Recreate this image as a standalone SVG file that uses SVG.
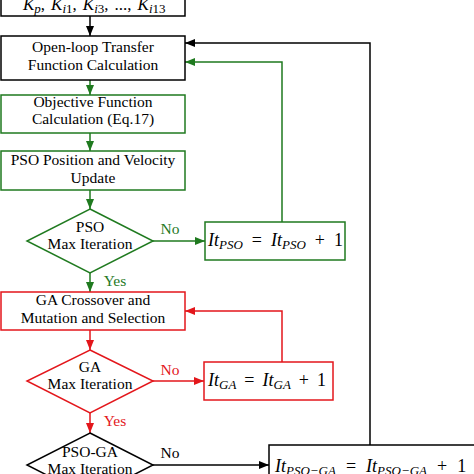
<svg xmlns="http://www.w3.org/2000/svg" width="474" height="474" viewBox="0 0 474 474">
<style>
text{font-family:"Liberation Serif","DejaVu Serif","Times New Roman",serif;font-size:15.5px;text-anchor:middle}
.m{font-style:italic;text-anchor:start;font-size:18px}
.t{font-style:italic;text-anchor:start;font-size:17px}
.s{font-size:13px;font-style:italic}
.n{font-size:13px;font-style:normal}
.u{font-style:normal}
.box{fill:#fff;stroke-width:1.5}
.k{stroke:#000;fill:none;stroke-width:1.5}
.g{stroke:#1f7a1f;fill:none;stroke-width:1.5}
.r{stroke:#e3161b;fill:none;stroke-width:1.5}
</style>
<defs>
<marker id="ak" markerWidth="10" markerHeight="8" refX="10" refY="4" orient="auto" markerUnits="userSpaceOnUse"><path d="M0,0 L10,4 L0,8 Z" fill="#000"/></marker>
<marker id="ag" markerWidth="10" markerHeight="8" refX="10" refY="4" orient="auto" markerUnits="userSpaceOnUse"><path d="M0,0 L10,4 L0,8 Z" fill="#1f7a1f"/></marker>
<marker id="ar" markerWidth="10" markerHeight="8" refX="10" refY="4" orient="auto" markerUnits="userSpaceOnUse"><path d="M0,0 L10,4 L0,8 Z" fill="#e3161b"/></marker>
</defs>
<g id="connectors">
<path class="k" d="M90,16 V36" marker-end="url(#ak)"/>
<path class="g" d="M90,80 V95" marker-end="url(#ag)"/>
<path class="g" d="M90,133 V151" marker-end="url(#ag)"/>
<path class="g" d="M90,190 V209" marker-end="url(#ag)"/>
<path class="g" d="M153,241 H205" marker-end="url(#ag)"/>
<path class="g" d="M282,222 V62 H185" marker-end="url(#ag)"/>
<path class="g" d="M90,273 V292" marker-end="url(#ag)"/>
<path class="r" d="M90,330 V350" marker-end="url(#ar)"/>
<path class="r" d="M153,381 H204" marker-end="url(#ar)"/>
<path class="r" d="M282,362 V311 H185" marker-end="url(#ar)"/>
<path class="r" d="M90,413 V433" marker-end="url(#ar)"/>
<path class="k" d="M153,465 H269" marker-end="url(#ak)"/>
<path class="k" d="M370,445 V43 H185" marker-end="url(#ak)"/>
<text x="170" y="234" fill="#1f7a1f">No</text>
<text x="115" y="286" fill="#1f7a1f">Yes</text>
<text x="170" y="375" fill="#e3161b">No</text>
<text x="115" y="426" fill="#e3161b">Yes</text>
<text x="170" y="458">No</text>
</g>
<g id="init">
<rect class="box" x="1" y="-20" width="184" height="36" stroke="#000"/>
<text class="t" x="23" y="10">K<tspan class="s" dy="3">p</tspan><tspan class="u" dy="-3">,</tspan><tspan dx="6">K</tspan><tspan class="s" dy="3">i</tspan><tspan class="n">1</tspan><tspan class="u" dy="-3">,</tspan><tspan dx="6">K</tspan><tspan class="s" dy="3">i</tspan><tspan class="n">3</tspan><tspan class="u" dy="-3">,</tspan><tspan class="u" dx="6">...,</tspan><tspan dx="6">K</tspan><tspan class="s" dy="3">i</tspan><tspan class="n">13</tspan></text>
</g>
<g id="openloop">
<rect class="box" x="1" y="36" width="184" height="44" stroke="#000"/>
<text x="93" y="52">Open-loop Transfer</text>
<text x="93" y="70">Function Calculation</text>
</g>
<g id="objective">
<rect class="box" x="1" y="95" width="184" height="38" stroke="#1f7a1f"/>
<text x="93" y="107">Objective Function</text>
<text x="93" y="124">Calculation (Eq.17)</text>
</g>
<g id="psoupdate">
<rect class="box" x="1" y="151" width="184" height="39" stroke="#1f7a1f"/>
<text x="93" y="165">PSO Position and Velocity</text>
<text x="93" y="183">Update</text>
</g>
<g id="psomax">
<path class="box" d="M90,209 L153,241 L90,273 L27,241 Z" stroke="#1f7a1f"/>
<text x="90" y="232">PSO</text>
<text x="90" y="249">Max Iteration</text>
</g>
<g id="itpso">
<rect class="box" x="205" y="222" width="140" height="38" stroke="#1f7a1f"/>
<text class="m" x="208" y="246">It<tspan class="s" dy="3">PSO</tspan><tspan class="u" dy="-3" dx="9">=</tspan><tspan dx="9">It</tspan><tspan class="s" dy="3">PSO</tspan><tspan class="u" dy="-3" dx="9">+</tspan><tspan class="u" dx="9">1</tspan></text>
</g>
<g id="ga">
<rect class="box" x="1" y="292" width="184" height="38" stroke="#e3161b"/>
<text x="93" y="305">GA Crossover and</text>
<text x="93" y="323">Mutation and Selection</text>
</g>
<g id="gamax">
<path class="box" d="M90,350 L153,381 L90,413 L27,381 Z" stroke="#e3161b"/>
<text x="90" y="372">GA</text>
<text x="90" y="389">Max Iteration</text>
</g>
<g id="itga">
<rect class="box" x="204" y="362" width="129" height="38" stroke="#e3161b"/>
<text class="m" x="208" y="386">It<tspan class="s" dy="3">GA</tspan><tspan class="u" dy="-3" dx="8">=</tspan><tspan dx="8">It</tspan><tspan class="s" dy="3">GA</tspan><tspan class="u" dy="-3" dx="8">+</tspan><tspan class="u" dx="8">1</tspan></text>
</g>
<g id="psogamax">
<path class="box" d="M90,433 L153,465 L90,497 L27,465 Z" stroke="#000"/>
<text x="90" y="457">PSO-GA</text>
<text x="90" y="474">Max Iteration</text>
</g>
<g id="itpsoga">
<rect class="box" x="269" y="445" width="220" height="50" stroke="#000"/>
<text class="m" x="275" y="472">It<tspan class="s" dy="3">PSO−GA</tspan><tspan class="u" dy="-3" dx="10">=</tspan><tspan dx="10">It</tspan><tspan class="s" dy="3">PSO−GA</tspan><tspan class="u" dy="-3" dx="10">+</tspan><tspan class="u" dx="10">1</tspan></text>
</g>
</svg>
